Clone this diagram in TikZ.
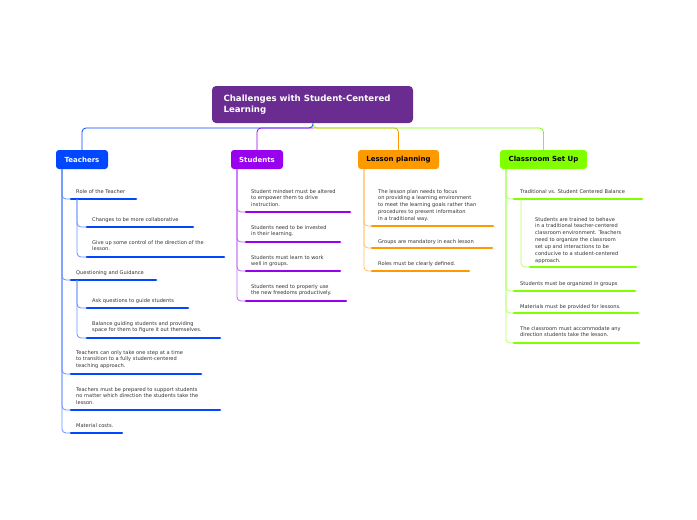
\documentclass[tikz,border=0pt]{standalone}
\usepackage{fontspec}
\setmainfont{DejaVu Sans}
\definecolor{cRoot}{HTML}{6A2C91}
\definecolor{cT}{HTML}{0047FF}
\definecolor{cS}{HTML}{9900EE}
\definecolor{cL}{HTML}{FF9900}
\definecolor{cC}{HTML}{80FF00}
\definecolor{txt}{HTML}{333333}
\tikzset{
  itemtxt/.style={anchor=north west,inner sep=0pt,align=left,text=txt,font=\fontsize{5.1}{6.9}\selectfont},
  bar/.style={line width=2.6pt,line cap=round},
  link/.style={line width=0.8pt,rounded corners=4pt},
  hd/.style={rounded corners=3pt,inner sep=0pt,font=\bfseries\fontsize{7}{8}\selectfont,minimum height=19pt},
}
% \itm{color}{linex}{liney}{x1}{x2}{ybar}{textx}{texty}{text}
\newcommand\itm[9]{%
  \draw[link,#1!60] (#2,#3) |- (#4,#6);
  \draw[bar,#1] (#4,#6) -- (#5,#6);
  \node[itemtxt] at (#7,#8) {#9};}
\begin{document}
\begin{tikzpicture}[x=1pt,y=-1pt]
\useasboundingbox[fill=white] (0,0) rectangle (697,520);
% root
\node[fill=cRoot,rounded corners=4pt,minimum width=201pt,minimum height=37pt,inner sep=0pt] (root) at (312.5,104.5) {};
\node[anchor=west,text=white,align=left,font=\bfseries\fontsize{8.6}{11}\selectfont] at (220,104.5) {Challenges with Student-Centered\\Learning};
% heads
\node[hd,fill=cT,text=white,minimum width=52pt] (T) at (82,159.5) {Teachers};
\node[hd,fill=cS,text=white,minimum width=52pt] (S) at (257,159.5) {Students};
\node[hd,fill=cL,text=black,minimum width=81pt] (L) at (398.5,159.5) {Lesson planning};
\node[hd,fill=cC,text=black,minimum width=87pt] (C) at (543.5,159.5) {Classroom Set Up};
% connectors
\draw[link,cT] (313,123) -- (313,128) -| (T.north);
\draw[link,cS] (313,128) -| (S.north);
\draw[link,cL] (313,128) -| (L.north);
\draw[link,cC] (313,123) -- (313,128) -| (C.north);
% Teachers
\itm{cT}{62}{169}{71}{136}{199}{76}{189}{Role of the Teacher}
\itm{cT}{77}{199}{87}{193}{227}{92}{217}{Changes to be more collaborative}
\itm{cT}{77}{199}{87}{224}{257}{92}{240}{Give up some control of the direction of the\\lesson.}
\itm{cT}{62}{169}{71}{156}{280}{76}{270}{Questioning and Guidance}
\itm{cT}{77}{280}{87}{188}{308}{92}{298}{Ask questions to guide students}
\itm{cT}{77}{280}{87}{220}{338}{92}{321}{Balance guiding students and providing\\space for them to figure it out themselves.}
\itm{cT}{62}{169}{71}{201}{374}{76}{350}{Teachers can only take one step at a time\\to transition to a fully student-centered\\teaching approach.}
\itm{cT}{62}{169}{71}{220}{410}{76}{387}{Teachers must be prepared to support students\\no matter which direction the students take the\\lesson.}
\itm{cT}{62}{169}{71}{122}{433}{76}{423}{Material costs.}
% Students
\itm{cS}{237}{169}{246}{350}{212}{251}{189}{Student mindset must be altered\\to empower them to drive\\instruction.}
\itm{cS}{237}{169}{246}{340}{242}{251}{225}{Students need to be invested\\in their learning.}
\itm{cS}{237}{169}{246}{340}{271}{251}{255}{Students must learn to work\\well in groups.}
\itm{cS}{237}{169}{246}{346}{301}{251}{284}{Students need to properly use\\the new freedoms productively.}
% Lesson
\itm{cL}{364}{169}{372}{493}{226}{378}{189}{The lesson plan needs to focus\\on providing a learning environment\\to meet the learning goals rather than\\procedures to present informaiton\\in a traditional way.}
\itm{cL}{364}{169}{372}{492}{248}{378}{239}{Groups are mandatory in each lesson}
\itm{cL}{364}{169}{372}{469}{271}{378}{261}{Roles must be clearly defined.}
% Classroom
\itm{cC}{506}{169}{514}{642}{199}{520}{189}{Traditional vs. Student Centered Balance}
\itm{cC}{521}{199}{530}{636}{267}{535}{217}{Students are trained to behave\\in a traditional teacher-centered\\classroom environment. Teachers\\need to organize the classroom\\set up and interactions to be\\conducive to a student-centered\\approach.}
\itm{cC}{506}{169}{514}{635}{291}{520}{281}{Students must be organized in groups}
\itm{cC}{506}{169}{514}{638}{313}{520}{304}{Materials must be provided for lessons.}
\itm{cC}{506}{169}{514}{639}{343}{520}{326}{The classroom must accommodate any\\direction students take the lesson.}
\end{tikzpicture}
\end{document}
